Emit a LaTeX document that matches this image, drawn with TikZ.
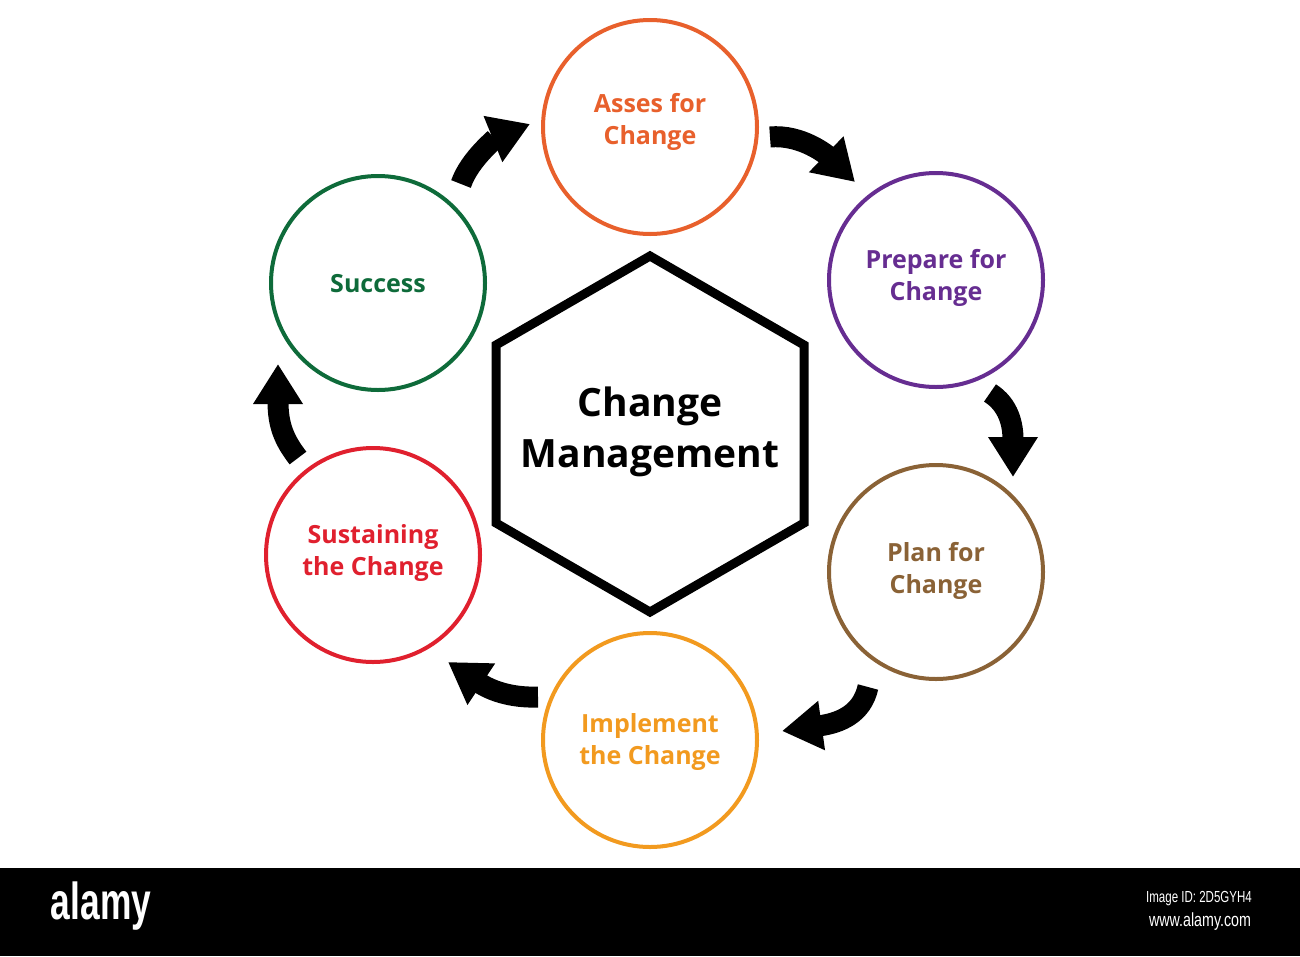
\documentclass[tikz,border=0pt]{standalone}
\usepackage{fontspec}
\setmainfont{Open Sans}
\newfontfamily\bandfont{Liberation Sans}
\usetikzlibrary{arrows.meta}
\definecolor{cAsses}{HTML}{E8602C}
\definecolor{cPrep}{HTML}{662D91}
\definecolor{cPlan}{HTML}{8A6236}
\definecolor{cImpl}{HTML}{F29A1F}
\definecolor{cSust}{HTML}{E0202E}
\definecolor{cSucc}{HTML}{0E6B3A}
\begin{document}
\begin{tikzpicture}[x=1pt,y=-1pt,
  stage/.style={circle, draw=#1, line width=4pt, minimum size=214pt, inner sep=0pt},
  stagetext/.style={text=#1, align=center, inner sep=0pt, font=\fontsize{25}{32}\selectfont\bfseries},
  flow/.style={line width=21pt, -{Triangle[width=47pt,length=40pt]}}]
\useasboundingbox (0,0) rectangle (1300,956);
\fill[white] (0,0) rectangle (1300,868);
% hexagon
\draw[line width=9pt, line join=miter] (650,256) -- (804,345) -- (804,523) -- (650,612) -- (496,523) -- (496,345) -- cycle;
\node[align=center, font=\fontsize{39}{51}\selectfont\bfseries] (hub) at (650,432) {Change\\Management};
% stages
\node[stage=cAsses] (asses) at (650,127) {};
\node[stage=cPrep] (prep) at (936,280) {};
\node[stage=cPlan] (plan) at (936,572) {};
\node[stage=cImpl] (impl) at (650,740) {};
\node[stage=cSust] (sust) at (373,555) {};
\node[stage=cSucc] (succ) at (378,283) {};
\node[stagetext=cAsses] (tasses) at (650,122) {Asses for\\Change};
\node[stagetext=cPrep] (tprep) at (936,278) {Prepare for\\Change};
\node[stagetext=cPlan] (tplan) at (936,571) {Plan for\\Change};
\node[stagetext=cImpl] (timpl) at (650,742) {Implement\\the Change};
\node[stagetext=cSust] (tsust) at (373,553) {Sustaining\\the Change};
\node[stagetext=cSucc] (tsucc) at (378,284) {Success};
% arrow end points
\coordinate (a1s) at (461,184); \coordinate (a1e) at (530,124);
\coordinate (a2s) at (770,137); \coordinate (a2e) at (855,182);
\coordinate (a3s) at (990,393); \coordinate (a3e) at (1013,477);
\coordinate (a4s) at (868,687); \coordinate (a4e) at (782,731);
\coordinate (a5s) at (538,697); \coordinate (a5e) at (448,662);
\coordinate (a6s) at (298,458); \coordinate (a6e) at (278,364);
\draw[flow] (a1s) .. controls (470,158) and (498,137) .. (a1e);
\draw[flow] (a2s) .. controls (802,134) and (828,156) .. (a2e);
\draw[flow] (a3s) .. controls (1009,405) and (1013,425) .. (a3e);
\draw[flow] (a4s) .. controls (862,714) and (840,723) .. (a4e);
\draw[flow] (a5s) .. controls (510,698) and (490,690) .. (a5e);
\draw[flow] (a6s) .. controls (284,440) and (278,425) .. (a6e);
% bottom band
\fill[black] (0,868) rectangle (1300,956);
\node[text=white, font=\bandfont\fontsize{52}{52}\selectfont\bfseries, xscale=0.68, inner sep=0pt] (logo) at (101,906) {alamy};
\node[text=white, font=\bandfont\fontsize{16}{16}\selectfont, xscale=0.72, inner sep=0pt] (imgid) at (1199,899) {Image ID: 2D5GYH4};
\node[text=white, font=\bandfont\fontsize{19}{19}\selectfont, xscale=0.75, inner sep=0pt] (www) at (1200,922) {www.alamy.com};
\end{tikzpicture}
\end{document}
